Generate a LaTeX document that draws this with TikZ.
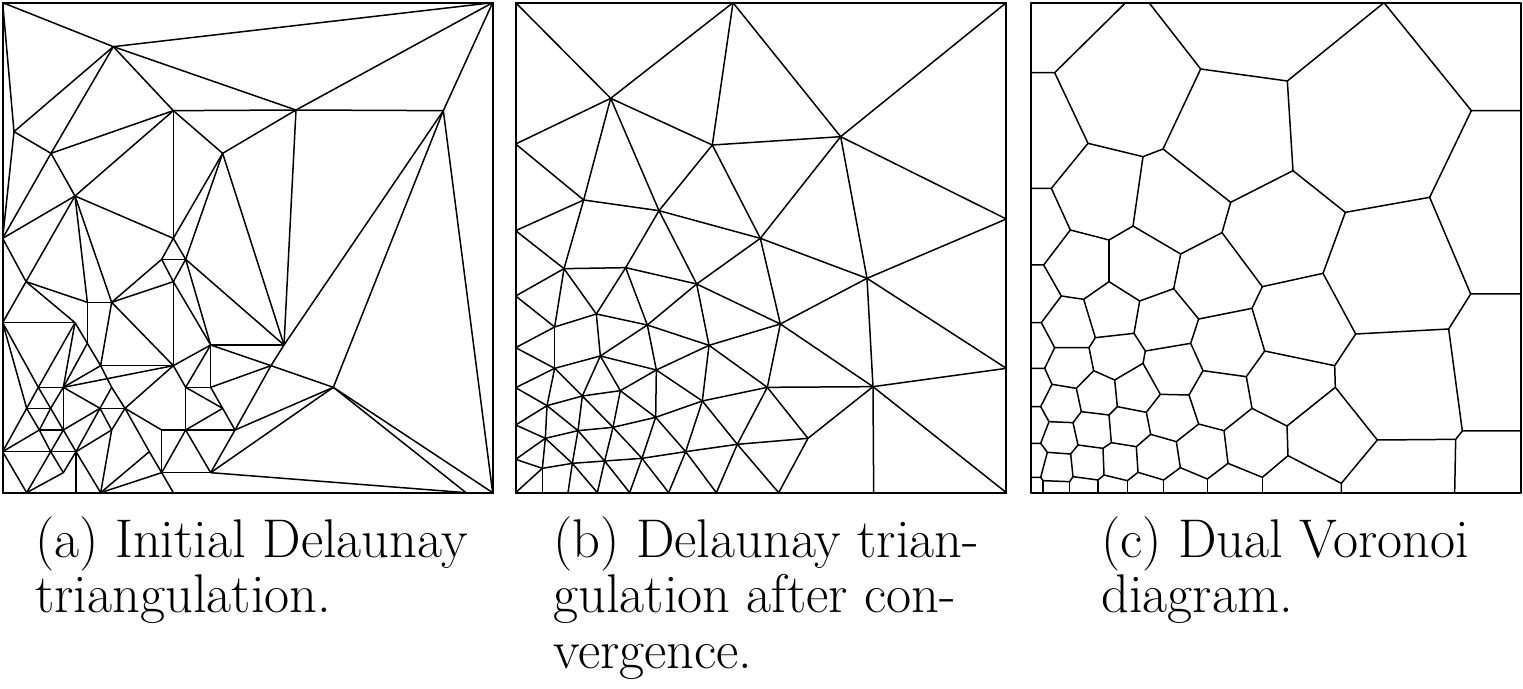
\documentclass[tikz,border=0pt]{standalone}
\begin{document}
\begin{tikzpicture}[x=1pt,y=-1pt,mesh/.style={line width=1.5pt,line join=round},frame/.style={line width=2pt},captext/.style={anchor=base west,inner sep=0pt,font=\fontsize{54.5}{60}\selectfont}]
\useasboundingbox (0,0) rectangle (1523,688);
% ---------- panel a
\begin{scope}[shift={(0,0)},x=0.33333pt,y=-0.33333pt]
\foreach \n/\p in {TL/{8,8},TR/{1478,8},BL/{8,1478},BR/{1478,1478},v1/{340,140},v2/{42,395},v3/{153,460},v4/{520,332},v5/{888,330},v6/{1330,332},v7/{668,460},v8/{225,588},L1/{8,715},v9/{520,715},v10/{485,778},v11/{557,778},v12/{78,845},v13/{520,845},v14/{262,907},v15/{335,907},L2/{8,968},v16/{225,968},v17/{632,1035},v18/{852,1035},v19/{302,1097},v20/{520,1097},v21/{813,1097},v22/{1000,1162},v23/{115,1162},v24/{190,1162},v25/{335,1162},v26/{557,1162},v27/{632,1162},v28/{80,1225},v29/{152,1225},v30/{300,1225},v31/{375,1225},v32/{668,1225},v33/{118,1290},v34/{190,1290},v35/{335,1290},v36/{485,1290},v37/{557,1290},v38/{705,1290},L3/{8,1355},v39/{152,1355},v40/{228,1355},v41/{448,1355},v42/{485,1418},v43/{632,1418},v44/{190,1418},B1/{80,1478},B2/{228,1478},B3/{302,1478},B4/{520,1478},B5/{1398,1478},v45/{262,1030}}
  \coordinate (a\n) at (\p);
\foreach \a/\b in {TL/v1,TL/v2,v1/TR,v1/v2,v1/v3,v1/v4,v1/v5,TR/v5,TR/v6,v2/v3,v2/L1,v3/v4,v3/v8,v3/L1,v4/v5,v4/v8,v4/v7,v4/v9,v5/v6,v5/v7,v5/v18,v6/BR,v6/v18,v6/v22,v7/v9,v7/v11,v7/v18,v8/L1,v8/v12,v8/v9,v8/v14,v8/v15,L1/v12,v9/v10,v9/v11,v10/v11,v10/v15,v10/v13,v11/v13,v11/v17,v11/v18,v12/L2,v12/v14,v12/v16,v13/v15,v13/v20,v13/v17,v14/v15,v14/v45,v16/v45,v45/v24,v45/v19,v15/v19,v15/v20,v16/v23,v16/v24,L2/v28,L2/v23,L2/v16,v17/v18,v17/v20,v17/v26,v17/v27,v17/v21,v18/v21,v21/v22,v21/v27,v21/v38,v22/v38,v22/BR,v22/B5,v22/v43,v43/B5,v23/v24,v23/v28,v23/v29,v24/v29,v24/v34,v24/v30,v24/v19,v24/v20,v19/v20,v19/v25,v25/v31,v25/v30,v20/v31,v20/v26,v26/v27,v26/v37,v26/v32,v27/v32,v32/v38,v32/v37,v37/v38,v36/v37,v36/v42,v37/v42,v37/v43,v38/v43,v28/v29,v28/v33,v28/L3,v29/v33,v29/v34,v33/v34,v33/L3,v33/v39,v34/v39,v34/v40,v34/v30,v30/v31,v30/v35,v30/v40,v31/v35,v31/v41,v35/v40,v35/B3,L3/v39,v39/v40,v39/B1,v39/v44,v40/v44,v40/B2,v44/B1,L3/B1,v41/B3,v41/v42,v42/B3,v42/v43,v42/B4,v31/v36,v40/B3}
  \draw[mesh] (a\a) -- (a\b);
\draw[frame] (aTL) rectangle (aBR);
\end{scope}
% ---------- panel b
\begin{scope}[shift={(513,0)},x=0.33333pt,y=-0.33333pt]
\foreach \n/\p in {TL/{8,8},TR/{1480,8},BL/{8,1478},BR/{1480,1478},T1/{660,8},R1/{1480,657},R2/{1480,1105},L1/{8,432},L2/{8,692},L3/{8,888},L4/{8,1043},L5/{8,1163},L6/{8,1275},L7/{8,1378},B1/{88,1478},B2/{165,1478},B3/{253,1478},B4/{350,1478},B5/{467,1478},B6/{610,1478},B7/{797,1478},B8/{1082,1478},A/{293,295},Bv/{598,435},C/{983,410},D/{212,600},E/{438,632},F/{742,715},G/{1062,835},H/{153,806},I/{338,803},J/{551,852},K/{250,942},M/{403,975},N/{802,972},O/{125,981},P/{588,1036},Q/{262,1068},S/{430,1110},U/{125,1105},V/{763,1162},W/{1080,1160},X/{208,1188},Y/{322,1172},Z/{568,1203},a1/{102,1217},a2/{428,1252},a3/{300,1282},a4/{195,1292},a5/{97,1315},a6/{673,1333},a7/{885,1315},a8/{518,1355},a9/{387,1375},a10/{275,1383},a11/{178,1390},a12/{88,1405}}
  \coordinate (b\n) at (\p);
\foreach \a/\b in {TL/A,A/T1,T1/Bv,T1/C,TR/C,A/L1,A/D,A/E,A/Bv,Bv/C,Bv/E,Bv/F,C/F,C/G,C/R1,L1/D,L2/D,D/E,D/H,E/F,E/I,E/J,F/G,F/J,F/N,G/R1,G/N,G/W,G/R2,L2/H,L3/H,H/I,H/O,H/K,I/K,I/J,I/M,J/M,J/N,J/P,K/O,K/M,K/Q,L3/O,L4/O,O/U,M/Q,M/S,M/P,N/P,N/V,N/W,P/S,P/V,P/Z,L4/U,L5/U,U/Q,U/X,U/a1,Q/S,Q/X,Q/Y,S/Y,S/a2,S/Z,V/W,V/Z,V/a6,V/a7,W/R2,W/a7,W/BR,W/B8,L5/a1,L6/a1,a1/X,a1/a5,a1/a4,X/Y,X/a3,X/a4,Y/a3,Y/a2,a2/Z,a2/a3,a2/a8,a2/a9,Z/a6,Z/a8,a4/a3,a4/a5,a4/a11,a4/a10,a3/a9,a3/a10,a5/L6,a5/L7,a5/a11,a5/a12,a12/L7,a12/BL,a12/B1,a12/a11,a11/B2,a11/B3,a11/a10,a10/B3,a10/B4,a10/a9,a9/B4,a9/B5,a9/a8,a8/B5,a8/B6,a8/a6,a6/B6,a6/B7,a6/a7,a7/B7}
  \draw[mesh] (b\a) -- (b\b);
\draw[frame] (bTL) rectangle (bBR);
\end{scope}
% ---------- panel c
\begin{scope}[shift={(1028,0)},x=0.33333pt,y=-0.33333pt,every path/.style={mesh}]
\draw (293,8)--(80,218)--(8,218);
\draw (363,8)--(518,207)--(778,243)--(1068,8);
\draw (1068,8)--(1330,332)--(1480,332);
\draw (80,218)--(180,430)--(345,470)--(405,447)--(518,207);
\draw (778,243)--(795,512);
\draw (405,447)--(608,607)--(795,512)--(952,637)--(1205,592)--(1330,332);
\draw (1205,592)--(1328,882)--(1480,882);
\draw (180,430)--(70,565)--(8,565);
\draw (345,470)--(315,678);
\draw (70,565)--(127,690)--(243,720)--(315,678)--(458,762)--(582,698)--(608,607);
\draw (127,690)--(47,795)--(8,795);
\draw (243,720)--(243,845);
\draw (458,762)--(437,866);
\draw (582,698)--(703,860)--(885,820)--(952,637);
\draw (885,820)--(983,1002)--(1262,987)--(1328,882);
\draw (1262,987)--(1303,1293)--(1480,1293);
\draw (1303,1293)--(1283,1318)--(1048,1320)--(922,1162)--(920,1097)--(983,1002);
\draw (1283,1318)--(1280,1478);
\draw (1048,1320)--(940,1450)--(940,1478);
\draw (47,795)--(100,888)--(167,898)--(243,845)--(335,903)--(437,866)--(512,957)--(672,925)--(703,860);
\draw (672,925)--(710,1053)--(920,1097);
\draw (100,888)--(40,968)--(8,968);
\draw (167,898)--(202,1013);
\draw (335,903)--(318,1000);
\draw (512,957)--(488,1030);
\draw (40,968)--(80,1043)--(183,1043)--(202,1013)--(318,1000)--(352,1053)--(488,1030)--(525,1112)--(655,1130)--(710,1053);
\draw (80,1043)--(50,1105)--(8,1105);
\draw (183,1043)--(197,1112);
\draw (352,1053)--(345,1090);
\draw (655,1130)--(672,1225)--(777,1278)--(922,1162);
\draw (525,1112)--(483,1185);
\draw (50,1105)--(72,1153)--(145,1165)--(197,1112)--(260,1140)--(345,1090)--(397,1183)--(483,1185)--(512,1272)--(588,1292)--(672,1225);
\draw (72,1153)--(38,1220)--(8,1220);
\draw (145,1165)--(160,1235);
\draw (260,1140)--(268,1220);
\draw (397,1183)--(355,1237);
\draw (38,1220)--(63,1265)--(135,1268)--(160,1235)--(243,1245)--(268,1220)--(355,1237)--(368,1303)--(445,1325)--(512,1272);
\draw (588,1292)--(600,1390)--(703,1432)--(780,1367)--(777,1278);
\draw (780,1367)--(940,1450);
\draw (63,1265)--(38,1330)--(8,1330);
\draw (135,1268)--(150,1335);
\draw (243,1245)--(250,1328);
\draw (368,1303)--(325,1340);
\draw (445,1325)--(457,1403);
\draw (38,1330)--(58,1357)--(128,1362)--(150,1335)--(225,1345)--(250,1328)--(325,1340)--(330,1417)--(407,1440)--(457,1403)--(538,1437)--(600,1390);
\draw (58,1357)--(38,1432)--(8,1432);
\draw (128,1362)--(135,1430);
\draw (225,1345)--(228,1425);
\draw (38,1432)--(45,1442)--(125,1445)--(135,1430)--(210,1440)--(228,1425)--(298,1442)--(330,1417);
\foreach \x/\y in {45/1442,125/1445,210/1440,298/1442,407/1440,538/1437,703/1432} \draw (\x,\y)--(\x,1478);
\draw[frame] (8,8) rectangle (1480,1478);
\end{scope}
% ---------- captions
\node[captext] (ca1) at (35,557) {(a) Initial Delaunay};
\node[captext] (ca2) at (35,612) {triangulation.};
\node[captext] (cb1) at (553,557) {(b) Delaunay trian-};
\node[captext] (cb2) at (553,612) {gulation after con-};
\node[captext] (cb3) at (553,668) {vergence.};
\node[captext] (cc1) at (1101,557) {(c) Dual Voronoi};
\node[captext] (cc2) at (1101,612) {diagram.};
\end{tikzpicture}
\end{document}
